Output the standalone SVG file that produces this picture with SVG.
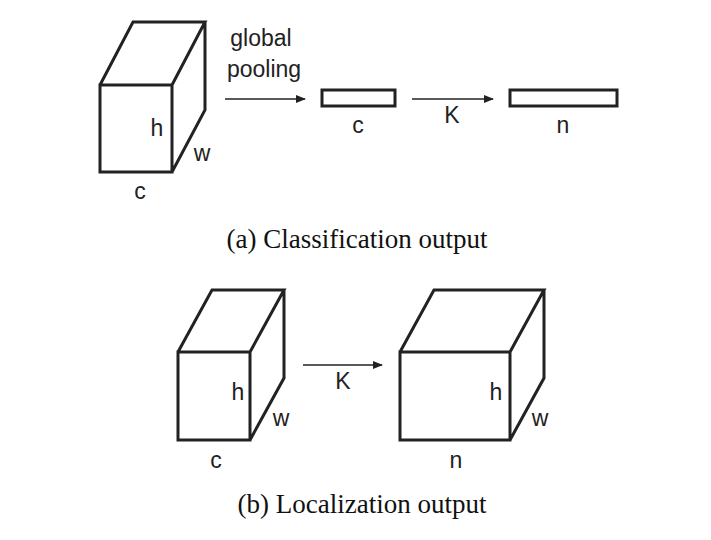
<svg xmlns="http://www.w3.org/2000/svg" width="711" height="540" viewBox="0 0 711 540">
<style>
.s{fill:none;stroke:#222;stroke-width:3;stroke-linejoin:miter}
.t{font-family:"Liberation Sans",Arial,sans-serif;font-size:23px;fill:#222;text-anchor:middle}
.c{font-family:"Liberation Serif","Times New Roman",serif;font-size:27px;fill:#111;text-anchor:middle}
.a{stroke:#222;stroke-width:1.5;fill:none}
</style>
<defs><marker id="ar" markerWidth="10" markerHeight="8" refX="9" refY="4" orient="auto" markerUnits="userSpaceOnUse"><path d="M0,0L10,4L0,8z" fill="#222"/></marker></defs>
<rect width="711" height="540" fill="#fff"/>
<g id="cube1"><path class="s" d="M100,85H172V172H100Z M100,85L133,22H205L172,85 M205,22V110L172,172"/>
<text class="t" x="157" y="136">h</text><text class="t" x="202" y="161">w</text><text class="t" x="140" y="199">c</text></g>
<g id="vecc"><rect class="s" x="322" y="90" width="73" height="16"/><text class="t" x="358" y="133">c</text></g>
<g id="vecn"><rect class="s" x="510" y="90" width="107" height="16"/><text class="t" x="563" y="133">n</text></g>
<g id="cube2"><path class="s" d="M178,352H250V440H178Z M178,352L212,290H284L250,352 M284,290V378L250,440"/>
<text class="t" x="238" y="400">h</text><text class="t" x="281" y="426">w</text><text class="t" x="216" y="468">c</text></g>
<g id="cube3"><path class="s" d="M400,352H510V440H400Z M400,352L434,290H544L510,352 M544,290V378L510,440"/>
<text class="t" x="496" y="400">h</text><text class="t" x="540" y="426">w</text><text class="t" x="456" y="468">n</text></g>
<g id="connectors">
<line class="a" x1="225" y1="99" x2="305" y2="99" marker-end="url(#ar)"/>
<line class="a" x1="412" y1="99" x2="493" y2="99" marker-end="url(#ar)"/>
<line class="a" x1="303" y1="365" x2="382" y2="365" marker-end="url(#ar)"/>
<text class="t" x="261" y="46">global</text><text class="t" x="264" y="77">pooling</text>
<text class="t" x="452" y="123">K</text>
<text class="t" x="343" y="389">K</text>
</g>
<text class="c" x="357" y="248">(a) Classification output</text>
<text class="c" x="362" y="513">(b) Localization output</text>
</svg>
